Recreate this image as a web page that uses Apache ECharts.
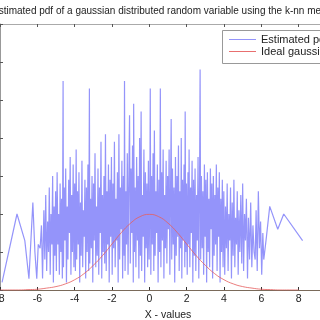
<!DOCTYPE html>
<html>
<head>
<meta charset="utf-8">
<script src="https://cdn.jsdelivr.net/npm/echarts@6/dist/echarts.min.js"></script>
<style>
  html, body { margin: 0; padding: 0; background: #fff; }
  #graph { width: 320px; height: 320px; }
</style>
</head>
<body>
<div id="graph"></div>
<script>
// titles / labels
var titleText = 'Estimated pdf of a gaussian distributed random variable using the k-nn method'
var xName = 'X - values'
var seriesNames = ['Estimated pdf', 'Ideal gaussian pdf']

// x axis ticks
var xMin = -8, xMax = 10, xStep = 2
// y axis ticks (labels are cut off in the picture)
var yMin = 0, yMax = 0.7, yStep = 0.1

// k-nn estimate, [x, pdf]
var estimated = [
  [-7.89,0.02],[-7.09,0.2],[-6.67,0.13],[-6.45,0.03],[-6.24,0.23],[-6.13,0.1],[-6.03,0.03],
  [-5.95,0.12],[-5.85,0.11],[-5.78,0.17],[-5.72,0.03],[-5.65,0.21],[-5.6,0.08],[-5.55,0.25],[-5.5,0.05],
  [-5.45,0.18],[-5.4,0.1],[-5.36,0.27],[-5.31,0.04],[-5.27,0.2],[-5.22,0.12],[-5.18,0.3],[-5.14,0.02],
  [-5.1,0.22],[-5.06,0.09],[-5.02,0.26],[-4.98,0.05],[-4.94,0.31],[-4.9,0.12],[-4.86,0.2],[-4.82,0.04],
  [-4.78,0.28],[-4.74,0.1],[-4.7,0.24],[-4.66,0.03],[-4.62,0.55],[-4.6,0.06],[-4.56,0.27],[-4.52,0.13],
  [-4.48,0.32],[-4.44,0.02],[-4.4,0.22],[-4.36,0.08],[-4.32,0.29],[-4.28,0.15],[-4.24,0.35],[-4.2,0.04],
  [-4.16,0.25],[-4.12,0.1],[-4.08,0.33],[-4.04,0.06],[-4.0,0.28],
  [-3.96,0.05],[-3.92,0.37],[-3.89,0.08],[-3.85,0.26],[-3.81,0.12],[-3.77,0.31],[-3.73,0.02],[-3.69,0.23],
  [-3.65,0.09],[-3.61,0.34],[-3.57,0.06],[-3.53,0.21],[-3.49,0.14],[-3.45,0.29],[-3.41,0.03],[-3.37,0.27],
  [-3.33,0.1],[-3.29,0.33],[-3.25,0.05],[-3.21,0.53],[-3.19,0.07],[-3.15,0.24],[-3.11,0.11],[-3.07,0.3],
  [-3.03,0.02],[-2.99,0.28],[-2.95,0.13],[-2.91,0.36],[-2.87,0.06],[-2.83,0.22],[-2.79,0.09],[-2.75,0.32],
  [-2.71,0.04],[-2.67,0.27],[-2.63,0.15],[-2.59,0.39],[-2.55,0.03],[-2.51,0.25],[-2.47,0.1],[-2.43,0.3],
  [-2.39,0.07],[-2.35,0.41],[-2.31,0.05],[-2.27,0.26],[-2.23,0.12],[-2.19,0.33],[-2.15,0.02],[-2.11,0.29],
  [-2.07,0.14],[-2.03,0.35],
  [-1.99,0.04],[-1.95,0.28],[-1.91,0.11],[-1.87,0.39],[-1.83,0.06],[-1.79,0.24],[-1.75,0.13],[-1.71,0.31],
  [-1.67,0.02],[-1.63,0.41],[-1.59,0.08],[-1.55,0.27],[-1.51,0.16],[-1.47,0.34],[-1.43,0.03],[-1.39,0.3],
  [-1.35,0.09],[-1.33,0.55],[-1.3,0.05],[-1.26,0.26],[-1.22,0.12],[-1.18,0.36],[-1.14,0.04],[-1.1,0.29],
  [-1.06,0.46],[-1.02,0.07],[-0.98,0.32],[-0.94,0.15],[-0.9,0.38],[-0.86,0.02],[-0.84,0.49],[-0.8,0.1],
  [-0.76,0.27],[-0.72,0.06],[-0.68,0.35],[-0.64,0.13],[-0.6,0.3],[-0.56,0.03],[-0.52,0.4],[-0.48,0.09],
  [-0.44,0.47],[-0.41,0.05],[-0.37,0.25],[-0.33,0.14],[-0.29,0.37],[-0.25,0.02],[-0.21,0.31],[-0.17,0.11],
  [-0.13,0.28],[-0.09,0.06],[-0.05,0.34],[-0.01,0.08],
  [0.03,0.27],[0.05,0.53],[0.08,0.04],[0.12,0.3],[0.16,0.12],[0.2,0.36],[0.24,0.05],[0.27,0.42],
  [0.31,0.09],[0.35,0.26],[0.39,0.15],[0.43,0.33],[0.47,0.02],[0.51,0.29],[0.55,0.1],[0.59,0.53],
  [0.62,0.06],[0.66,0.31],[0.7,0.13],[0.74,0.37],[0.78,0.03],[0.82,0.25],[0.86,0.11],[0.9,0.34],
  [0.94,0.07],[0.98,0.3],[1.02,0.16],[1.06,0.37],[1.1,0.04],[1.14,0.28],[1.17,0.45],[1.2,0.08],
  [1.24,0.32],[1.28,0.12],[1.32,0.27],[1.36,0.02],[1.4,0.35],[1.44,0.09],[1.48,0.3],[1.52,0.14],
  [1.56,0.38],[1.6,0.05],[1.64,0.26],[1.68,0.11],[1.71,0.4],[1.74,0.03],[1.78,0.29],[1.82,0.13],
  [1.86,0.33],[1.9,0.06],[1.92,0.47],[1.95,0.1],[1.99,0.28],
  [2.03,0.04],[2.07,0.31],[2.11,0.12],[2.13,0.37],[2.17,0.06],[2.21,0.27],[2.25,0.15],[2.29,0.34],
  [2.33,0.02],[2.37,0.29],[2.41,0.09],[2.45,0.32],[2.49,0.05],[2.53,0.25],[2.57,0.13],[2.61,0.35],
  [2.65,0.03],[2.69,0.28],[2.72,0.58],[2.75,0.08],[2.79,0.3],[2.83,0.11],[2.87,0.26],[2.91,0.04],
  [2.95,0.33],[2.99,0.14],[3.03,0.29],[3.07,0.02],[3.11,0.31],[3.15,0.1],[3.19,0.24],[3.23,0.06],
  [3.27,0.32],[3.31,0.16],[3.35,0.28],[3.39,0.03],[3.43,0.3],[3.47,0.09],[3.51,0.25],[3.55,0.12],
  [3.59,0.33],[3.63,0.05],[3.67,0.27],[3.71,0.14],[3.75,0.31],[3.79,0.02],[3.83,0.24],[3.87,0.1],
  [3.91,0.29],[3.95,0.06],[3.99,0.26],
  [4.04,0.04],[4.08,0.22],[4.13,0.11],[4.17,0.28],[4.22,0.05],[4.26,0.2],[4.31,0.13],[4.35,0.27],
  [4.4,0.03],[4.44,0.23],[4.49,0.09],[4.53,0.29],[4.58,0.06],[4.62,0.19],[4.67,0.12],[4.71,0.26],
  [4.76,0.04],[4.8,0.21],[4.85,0.1],[4.9,0.25],[4.95,0.07],[5.0,0.28],[5.05,0.05],[5.1,0.2],
  [5.15,0.13],[5.2,0.24],[5.26,0.03],[5.31,0.19],[5.37,0.08],[5.43,0.23],[5.49,0.06],[5.55,0.17],
  [5.61,0.1],[5.67,0.08],[5.72,0.21],[5.78,0.05],[5.84,0.26],[5.9,0.11],[5.96,0.18],[6.02,0.04],
  [6.08,0.15],[6.13,0.08],[6.25,0.13],[6.45,0.22],[6.88,0.16],[7.2,0.2],[8.21,0.13]
]

// ideal gaussian curve, [x, pdf]
var ideal = [
  [-8,0.0],[-7.5,0.0],[-7,0.0],[-6.5,0.001],[-6,0.002],[-5.5,0.005],[-5,0.009],[-4.5,0.016],
  [-4,0.027],[-3.5,0.043],[-3,0.065],[-2.5,0.091],[-2,0.121],[-1.5,0.151],[-1,0.176],[-0.5,0.193],
  [0,0.199],[0.5,0.193],[1,0.176],[1.5,0.151],[2,0.121],[2.5,0.091],[3,0.065],[3.5,0.043],
  [4,0.027],[4.5,0.016],[5,0.009],[5.5,0.005],[6,0.002],[6.5,0.001],[7,0.0],[7.5,0.0],[8,0.0]
]

var font = '"Liberation Sans", Arial, sans-serif'
var blue = 'rgba(60,60,245,0.55)'
var red = 'rgba(230,95,95,0.9)'

var dom = document.getElementById('graph')
var myChart = echarts.init(dom, null, { renderer: 'canvas' })

var option = {
  animation: false,
  backgroundColor: '#fff',
  title: {
    text: titleText,
    left: -8,
    top: 6,
    padding: 0,
    textStyle: { fontFamily: font, fontSize: 10, fontWeight: 'normal', color: '#222' }
  },
  // legend frame runs past the right edge like the cropped original
  graphic: [{
    type: 'rect',
    left: 222, top: 30, z: 90,
    shape: { width: 130, height: 33 },
    style: { fill: '#fff', stroke: '#999', lineWidth: 1 }
  }],
  legend: {
    orient: 'vertical',
    left: 222,
    top: 30,
    z: 100,
    padding: [4, 6, 2, 7],
    itemGap: 1,
    itemWidth: 27,
    itemHeight: 1,
    icon: 'rect',
    textStyle: { fontFamily: font, fontSize: 11, color: '#222' },
    data: seriesNames
  },
  grid: { left: 0, right: -16, top: 24, bottom: 30, outerBoundsMode: 'none', containLabel: false },
  xAxis: [
    {
      type: 'value',
      min: xMin, max: xMax, interval: xStep,
      name: xName,
      nameLocation: 'middle',
      nameGap: 15,
      nameTextStyle: { fontFamily: font, fontSize: 10.5, color: '#222' },
      axisLine: { onZero: false, lineStyle: { color: '#7a6a5a', width: 1 } },
      axisTick: { inside: true, length: 3, lineStyle: { color: '#333' } },
      axisLabel: { fontFamily: font, fontSize: 10.5, color: '#222', margin: 4 },
      splitLine: { show: false }
    },
    {
      type: 'value',
      position: 'top',
      min: xMin, max: xMax, interval: xStep,
      axisLine: { onZero: false, lineStyle: { color: '#aaa', width: 1 } },
      axisTick: { inside: true, length: 3, lineStyle: { color: '#555' } },
      axisLabel: { show: false },
      splitLine: { show: false }
    }
  ],
  yAxis: {
    type: 'value',
    min: yMin, max: yMax, interval: yStep,
    axisLine: { show: true, onZero: false, lineStyle: { color: '#999' } },
    axisTick: { show: true, inside: true, length: 3, lineStyle: { color: '#555' } },
    axisLabel: { show: false },
    splitLine: { show: false }
  },
  series: [
    {
      name: seriesNames[0],
      type: 'line',
      data: estimated,
      showSymbol: false,
      symbol: 'none',
      color: blue,
      lineStyle: { color: blue, width: 1.2 },
      z: 2
    },
    {
      name: seriesNames[1],
      type: 'line',
      data: ideal,
      smooth: true,
      showSymbol: false,
      symbol: 'none',
      color: red,
      lineStyle: { color: red, width: 0.9 },
      z: 3
    }
  ]
}
myChart.setOption(option, true)
</script>
</body>
</html>
